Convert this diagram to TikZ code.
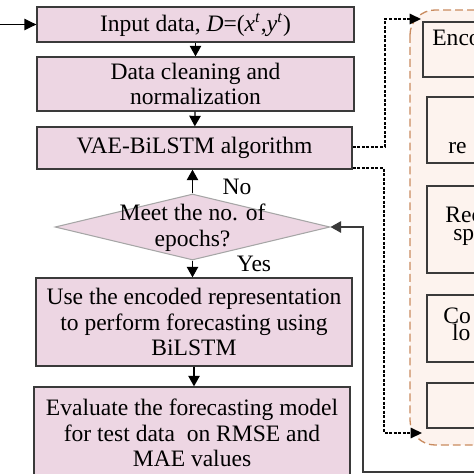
\documentclass[tikz,border=0pt]{standalone}
\usepackage{fontspec}
\setmainfont{Liberation Serif}
\usetikzlibrary{positioning}
\usetikzlibrary{shapes.geometric}
\usetikzlibrary{arrows.meta}

\definecolor{stepfill}{HTML}{EDD6E3}
\definecolor{edgegray}{HTML}{3A3A3A}
\definecolor{vaefill}{HTML}{FDF3EE}
\definecolor{vaeline}{HTML}{C98B5F}

\tikzset{
 flowbox/.style={draw=edgegray,line width=0.75pt,fill=stepfill,align=center,inner sep=1pt,
  font=\fontsize{13.4}{14.6}\selectfont},
 decision/.style={diamond,draw=gray!70,line width=0.6pt,fill=stepfill,inner sep=0pt},
 flowarrow/.style={-{Triangle[length=6pt,width=6.5pt]},line width=0.75pt,black},
 dotarrow/.style={-{Triangle[length=6.5pt,width=6pt]},line width=0.85pt,dash pattern=on 1.7pt off 0.9pt},
 innerbox/.style={draw=edgegray,line width=0.6pt,fill=vaefill},
 cut/.style={anchor=base west,inner sep=0pt,align=left,font=\fontsize{13.4}{10.2}\selectfont}
}

\begin{document}
\begin{tikzpicture}[x=0.02cm,y=-0.02cm]
 \useasboundingbox (0,0) rectangle (474,474);
 \clip (0,0) rectangle (474,474);

 % main flow
 \node[flowbox,minimum width=6.34cm,minimum height=0.70cm] (inp) at (195.5,24.5)
  {Input data, \textit{D}=(\textit{x}\textsuperscript{\textit{t}},\textit{y}\textsuperscript{\textit{t}})};
 \node[flowbox,minimum width=6.34cm,minimum height=1.08cm] (clean) at (195.5,84)
  {Data cleaning and\\normalization};
 \node[flowbox,minimum width=6.30cm,minimum height=0.84cm] (vae) at (194.5,148)
  {VAE-BiLSTM algorithm};
 \node[decision,minimum width=5.5cm,minimum height=1.32cm] (meet) at (192.5,227) {};
 \node[align=center,font=\fontsize{13.4}{14.6}\selectfont] (meettext) at (192.5,228) {Meet the no. of\\epochs?};
 \node[flowbox,minimum width=6.32cm,minimum height=1.76cm] (use) at (194,322)
  {Use the encoded representation\\to perform forecasting using\\BiLSTM};
 \node[flowbox,minimum width=6.32cm,minimum height=1.84cm] (eval) at (192,433)
  {Evaluate the forecasting model\\for test data\ \ on RMSE and\\MAE values};

 \coordinate (start) at (-5,24.5);
 \draw[flowarrow,-{Triangle[length=6.8pt,width=6.4pt]}] (start) -- (inp.west);
 \draw[flowarrow] (inp) -- (clean);
 \draw[flowarrow] (clean) -- (vae);
 \draw[flowarrow] (meet.north) -- (vae.south -| meet.north);
 \draw[flowarrow] (meet.south) -- (use.north -| meet.south);
 \draw[flowarrow] (use) -- (use.south |- eval.north);
 \node[font=\fontsize{13.4}{14.6}\selectfont] (no) at (237,187) {No};
 \node[font=\fontsize{13.4}{14.6}\selectfont] (yes) at (254,264) {Yes};

 % VAE block on the right
 \draw[vaeline,fill=vaefill,line width=0.75pt,dash pattern=on 4.5pt off 2.3pt,rounded corners=0.5cm]
  (410,10) rectangle (520,445);
 \draw[innerbox] (423,22) rectangle (520,77);
 \draw[innerbox] (427,97) rectangle (520,163);
 \draw[innerbox] (427,186) rectangle (520,273);
 \draw[innerbox] (427,295) rectangle (520,362);
 \draw[innerbox] (427,383) rectangle (520,428);
 \node[cut] (enc) at (432,45) {Enco};
 \node[cut] (rep) at (448,153) {re};
 \node[cut] (rec) at (445,240) {Rec\\\hspace*{4.5pt}sp};
 \node[cut,font=\fontsize{13.4}{9.6}\selectfont] (com) at (443,340) {Co\\\hspace*{5pt}lo};

 \coordinate (encin) at (421,19);
 \coordinate (encout) at (422,433);
 \draw[dotarrow] ([yshift=0.02cm]vae.east) -| (385,19) -- (encin);
 \draw[dotarrow] ([yshift=-0.4cm]vae.east) -| (384,433) -- (encout);

 % feedback loop
 \coordinate (loopend) at (490,472);
 \draw[flowarrow,draw=edgegray,line width=0.85pt] (loopend) -- (363,472) |- (meet.east);
\end{tikzpicture}
\end{document}
